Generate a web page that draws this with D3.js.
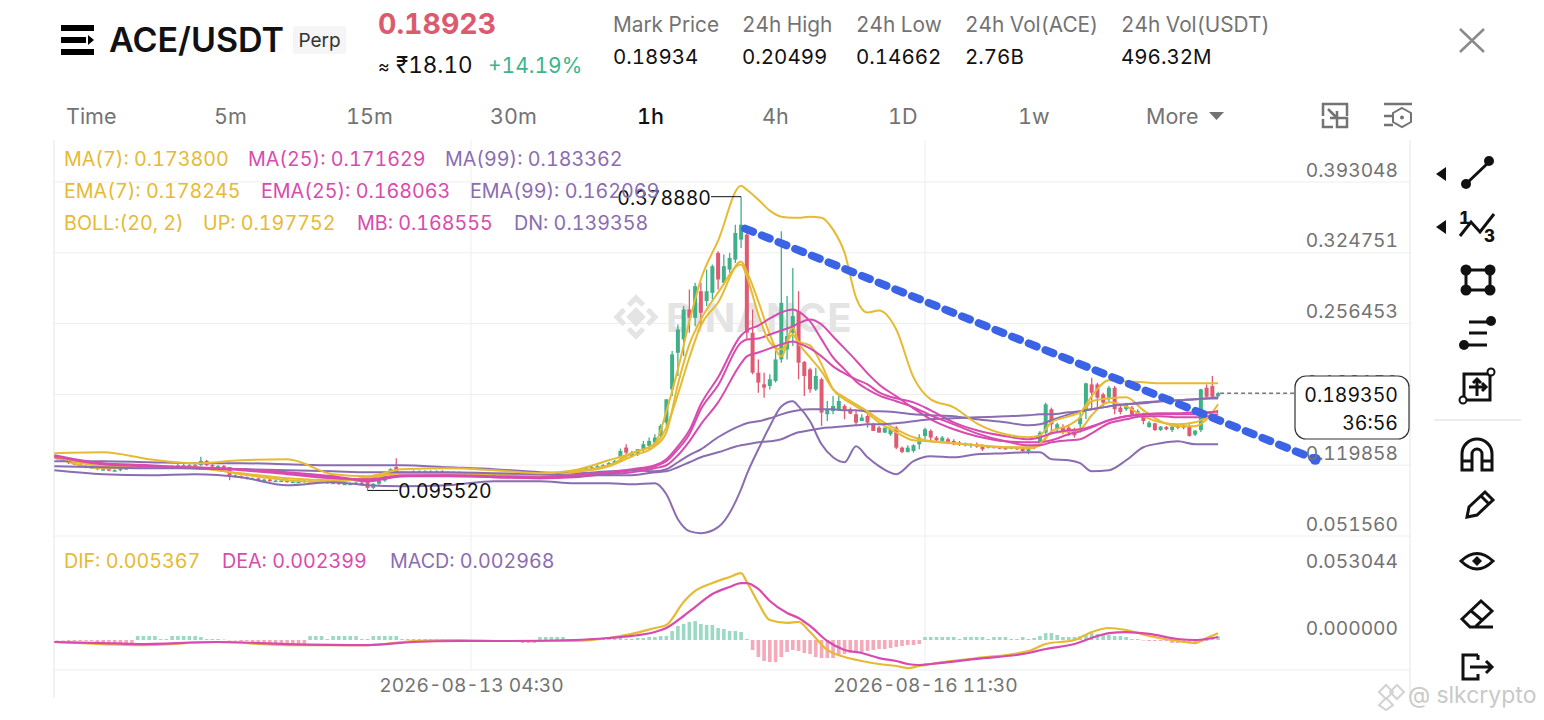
<!DOCTYPE html>
<html lang="en">
<head>
<meta charset="utf-8" />
<title>ACE/USDT Perp 1h</title>
<script src="https://cdn.jsdelivr.net/npm/d3@7"></script>
<style>
    body { margin: 0; background: #fff; }
    svg { display: block; }
    svg text { font-family: Inter, "Noto Sans", sans-serif; font-variant-numeric: tabular-nums; }
</style>
</head>
<body>
<script>
// prices are thousandths of a USDT
var candleOpen = [
    128,126,124,122,121,119,118,118,116,116,115,115,117,117,118,118,119,119,118,118,
    119,119,120,120,120,120,124,120,119,119,118,110,109,108,107,107,106,106,105,105,
    105,104,104,104,105,104,104,104,103,103,102,102,102,103,104,98,102,105,110,118,
    113,113,113,114,114,114,114,114,113,113,113,112,112,112,112,112,111,110,111,110,
    109,110,109,109,108,109,109,110,110,112,114,115,116,117,118,119,120,122,
    127.2,136.9,128.8,130.4,135.3,138.5,141.7,148.1,160.9,193,228.3,241.2,270.1,262,287.7,278.1,286.1,324.6,295.8,308.6,
    318.2,337.5,342.3,247.6,209.1,197.9,196.3,201.1,221.9,231.6,247.6,268.5,219.4,212.3,193,202.7,169,172.2,173.8,177,
    173.8,169,162.5,167.4,159.3,156.1,
    151.3,149.7,156.1,136.8,132.7,133.6,140,148.1,152.9,146.5,143.3,144.9,143.3,141.7,139.1,138.4,140,139.1,136.8,137.8,
    137.2,136.8,135.9,136.8,135.9,133.6,139.1,141.7,151.3,173.8,154.5,156.1,156.1,154.5,159.3,172.2,197.8,197.8,188.2,185,
    194.6,175.4,173.8,175.4,168.9,168.9,156.7,160.3,153.8,156.7,153.8,158.3,158.3,157.7,149.4,153.8,194.6,196.2,186.6
];
var candleClose = [
    126,124,122,121,119,118,118,116,116,115,115,117,117,118,118,119,119,118,118,119,
    119,120,120,120,120,124,120,119,119,118,110,109,108,107,107,106,106,105,105,105,
    104,104,104,105,104,104,104,103,103,102,102,102,103,101,98,102,105,110,116,113,
    113,113,114,114,114,114,114,113,113,113,112,112,112,112,112,111,110,111,110,109,
    110,109,109,108,109,109,110,110,112,114,115,116,117,118,119,120,122,124,
    133.6,132,132,135.3,140.1,143.3,146.5,157.7,183.4,226.7,250.8,270.1,262,292.6,266.9,287.7,311.8,299,311.8,319.8,
    343.9,351.9,247.6,209.1,199.5,194.7,202.7,221.9,276.5,244.4,263.7,218.7,205.9,193,205.9,170.6,173.8,177,181.8,172.2,
    169.6,160.9,165.8,160.9,152.9,151.3,
    156.1,154.5,136.8,132.7,136.8,139.1,146.5,154.5,146.5,143.9,146.5,141.7,140,139.4,141,140.4,137.8,135.2,138.4,136.5,
    135.9,135.2,137.2,135.2,133.6,135.9,136.5,151.3,178.6,159.3,159.3,151.9,151.3,148.7,165.7,198.8,189.8,185,180.2,194.6,
    173.8,171.2,178.6,168.9,172.2,162.5,160.9,153.8,157.1,154.5,157.1,156.1,156.1,148.1,153.2,193,185.9,185.9,189.35
];
var candleHigh = [
    129,127,125,123,122,120,119,119,117,117,116,118,118,119,119,120,120,120,119,120,
    120,121,121,121,121,128,125,121,120,120,118,111,110,109,108,108,107,107,106,106,
    106,105,105,106,105,105,105,105,104,104,103,103,104,104,104.4,102.5,106,111,117,126.6,
    114,114,115,115,115,115,115,115,114,114,114,113,113,113,113,113,112,112,112,111,
    111,111,110,110,110,110,111,111,113,115,116,117,118,119,120,121,123,125,
    135.9,140.1,133.6,135.3,143.3,146.5,149.7,159.3,183.4,230,255.6,273.3,289.3,295.8,295.8,308.6,313.4,326.3,323,324.6,
    351.9,378.88,345.5,270.1,221.9,209.1,207.5,230,345.5,283,310.2,287.7,220.3,213.9,213.9,204.3,181.8,186.6,188.2,178.6,
    175.4,172.2,169,169,160.9,157.7,
    156.1,156.1,157.7,137.8,139.1,140,149.7,156.1,154.5,148.1,148.1,146.5,144.9,143.3,141.7,141,141.7,140,139.1,138.4,
    137.8,137.8,137.8,137.8,136.8,136.8,140,152.9,180.2,175.4,160.9,159.3,159.3,156.1,172.2,199.4,204.2,199.4,189.8,196.2,
    196.2,177,180.2,177,173.8,170.5,162.5,160.9,157.7,157.7,158.3,159.3,159.3,159.3,153.9,193.6,197.8,205.9,190.8
];
var candleLow = [
    125,123,121,120,118,117,117,115,115,114,114,114,116,116,117,117,118,117,117,117,
    118,118,119,119,119,119,119,118,118,117,105.4,108,107,106,106,105,105,104,104,104,
    103,103,103,103,103,103,103,102,102,101,101,101,101,100,95.52,97,101,104,109,112,
    112,112,112,113,113,113,113,112,112,112,111,111,111,111,111,110,109,110,109,108,
    108,108,108,107,107,108,108,109,109,111,113,114,115,116,117,118,119,121,
    125.6,127.2,127.2,128.8,132,135.3,140.1,144.9,157.7,186.6,205.9,225.1,247.6,254,254,273.3,279.7,289.3,294.2,305.4,
    315,329.5,241.2,207.5,189.8,185,193,199.5,218.7,221.9,234.8,202.7,186.6,189.8,191.4,157.7,162.5,169,172.2,164.2,
    169,157.7,162.5,156.1,152.9,151.3,
    151,148.1,135.2,131.4,132,132,135.2,144.9,141.7,141.7,141.7,140,139.1,138.4,137.8,136.8,136.8,133.6,135.9,135.9,
    135.2,134.6,135.2,134.6,132.7,130.4,135.2,138.4,149.7,149.7,152.9,149.7,148.1,146.5,151.3,164.1,173.8,175.4,177,180.2,
    168.9,168.9,172.2,167.3,167.3,159.3,156.1,152.9,152.9,153.5,151.9,154.5,154.5,147.4,148.1,151.9,184,184,185
];

// bars at which the indicator lines were read
var lineBars = [-0.5,8,16,24,32,40,48,54,60,68,76,84,90,96,
    100,104,106,108,110,112,115,119,120,122,124,126,128,129,131,133,135,137,139,141,143,
    146,149,152,156,160,165,169,171,173,176,178,180,183,186,189,192,195,198,200,202];
var ma7 = [127.5,116.9,118.9,117.9,111.2,105.4,103.5,108.3,113.1,112.1,111.2,109.2,114,119.8,
    131.4,140,156.4,188.2,223.8,254.6,276.8,316.3,306.6,277.8,246,224.8,252.7,239.2,235.4,217.1,193,183.4,176.6,169.9,161.2,
    151.6,143.9,142.9,141,139.1,137.2,136.2,139.1,152.6,158.3,166,181.5,184.3,185.3,172.8,162.2,157.4,157.4,164.1,178.6];
var ma25 = [127.5,120.8,117.9,116.9,116,112.1,108.3,104.4,109.2,110.2,108.3,107.3,108.3,112.1,
    115,118.9,123.7,135.2,149.7,173.8,196.9,238.3,241.2,242.1,246,249.8,253.7,256.6,260.4,255.6,244,232.5,220.9,208.4,197.8,
    186.3,174.7,164.1,154.5,147.8,142.9,142,142,143.9,149.7,152.6,156.4,163.2,167,168.9,168.9,168.9,168.9,169.9,170.9];
var ma99 = [123.7,123.7,122.7,121.8,121.8,120.8,119.8,119.8,119.8,117.9,116,113.1,112.1,114,
    115,114,116,122.7,129.5,135.2,146.8,158.3,160.3,162.2,165.1,168.9,171.8,172.8,173.8,173.8,173.8,172.8,172.8,171.8,171.8,
    170.9,168.9,168,167,164.1,161.2,158.3,159.3,163.2,168.9,171.8,173.8,176.6,178.6,179.5,181.5,182.4,183.4,184.3,185.3];
var ema7 = [128.5,118.9,117.9,116.9,112.1,107.3,105.4,107.3,112.1,112.1,111.2,109.2,113.1,118.9,
    128.5,138.1,151.6,197.8,236.4,260.4,286.4,313.4,301.8,265.2,238.3,231.5,246,237.3,223.8,210.3,193,185.3,178.6,171.8,164.1,
    154.5,146.8,142.9,141,139.1,137.2,137.2,141,150.6,152.6,154.5,168,180.5,176.6,167,161.2,159.3,161.2,166,172.8];
var ema25 = [129.5,121.8,119.8,116.9,115,111.2,107.3,106.3,109.2,109.2,108.3,107.3,109.2,111.2,
    113.1,116.9,119.8,129.5,142.9,159.3,180.5,218.1,224.8,228.6,232.5,236.4,239.2,237.3,232.5,224.8,215.2,208.4,202.6,197.8,190.1,
    184.3,180.5,172.8,161.2,153.5,147.8,144.9,146.8,150.6,153.5,154.5,157.4,163.2,167,168.9,169.9,169.9,170.9,170.9,171.8];
var ema99 = [118.9,117.9,116.9,116.9,116,115,114,113.1,113.1,113.1,112.1,111.2,110.2,110.2,
    110.2,113.1,114,117.9,122.7,127.5,132.3,139.1,140,142,142.9,144.9,149.7,151.6,153.5,155.5,156.4,157.4,158.3,159.3,159.3,
    160.3,162.2,164.1,165.1,166,167,168,168.9,168.9,170.9,171.8,173.8,176.6,178.6,180.5,181.5,182.4,183.4,184.3,184.3];
var bollUp = [131.4,132.3,125.6,121.8,124.6,125.6,111.2,109.2,116,116.9,115,112.1,115,124.6,
    131.4,141,171.8,212.3,258.5,299,336.5,389.5,385.6,376,365.4,359.6,358.6,358.6,359.6,358.6,347.1,324.9,281.6,267.2,269.1,
    250.8,204.6,183.4,175.7,160.3,149.7,146.8,148.7,161.2,167,170.9,186.3,201.7,200.7,199.8,198.8,198.8,198.8,198.8,198.8];
var bollMb = [128.5,120.8,118.9,117.9,116,113.1,109.2,105.4,110.2,110.2,109.2,108.3,110.2,113.1,
    116,119.8,125.6,138.1,153.5,178.6,204.6,245,249.8,254.6,261.4,267.2,270,268.1,258.5,241.2,223.8,212.3,200.7,193,187.2,
    181.5,175.7,168,159.3,150.6,142.9,139.1,139.1,142,143.9,144.9,150.6,160.3,164.1,167,167,166,166,167,168.9];
var bollDn = [115,111.2,110.2,111.2,108.3,100.6,103.5,100.6,99.6,100.6,104.4,104.4,102.5,102.5,
    101.5,102.5,91.9,67.8,56.3,54.3,60.1,96.7,111.2,135.2,157.4,176.6,181.5,176.6,162.2,140,127.5,122.7,138.1,127.5,118.9,
    111.2,123.7,128.5,127.5,130.4,131.4,132.3,132.3,125.6,124.6,121.8,114,115,124.6,137.2,141,142.9,140,140,140];

// MACD panel, same units
var macdBars = [-0.5,8,14,28,40,54,62,70,78,90,96,100,104,106,109,111,114,117,119,120,
    122,124,127,129,131,134,137,140,143,146,148,150,152,160,169,172,177,180,183,186,190,195,198,200,202];
var dif = [-1.6,-3.2,-4,-1.6,-4,-4,-0.8,0,-0.8,-0.8,1.6,4.8,9.5,11.9,30.1,38.8,45.1,49.9,53,45.9,
    29.3,15.8,13.5,14.3,6.3,-7.9,-13.5,-16.6,-19,-20.6,-22.2,-20.6,-19,-14.3,-8.7,-3.2,0,6.3,9.5,7.9,3.2,-0.8,-2.4,1.6,5.4];
var dea = [-1.6,-2.4,-3.2,-1.6,-3.2,-4,-1.6,-0.8,-0.8,0,1.6,3.2,6.3,9.5,19,26.1,36.4,42,45.1,45.1,
    40.4,30.9,21.4,17.4,11.1,-0.8,-7.9,-10.3,-14.3,-16.6,-19,-19.8,-19,-15,-10.3,-7.1,-3.2,1.6,5.5,6.3,4.8,0.8,0,0.8,2.4];
var macdHist = [
    -0.4,-0.4,-0.8,-0.8,-0.8,-0.8,-0.8,-3.2,-3.2,-3.2,-3.2,-3.2,-3.2,-3.2,3.2,3.2,3.2,3.2,0.8,0.8,
    3.2,3.2,3.2,3.2,3.2,2.4,0.8,0.8,0.8,0.4,-0.4,-0.4,-0.8,-0.8,-3.2,-3.2,-3.2,-3.2,-3.2,-3.2,
    -3.2,-3.2,-3.2,-3.2,3.2,3.2,3.2,0.8,3.2,3.2,3.2,3.2,3.2,0.8,0.8,3.2,3.2,3.2,3.2,3.2,
    0.8,0.8,0.8,0.8,0.8,0.8,0.8,0.8,0.8,0.8,-0.8,-0.8,-0.8,-0.8,-0.8,-0.8,-0.4,-0.4,-0.4,-0.4,
    -0.4,-2.4,-2.4,-2.4,2.4,2.4,2.4,2.4,2.4,0.8,0.8,0.8,0.8,1.6,1.6,1.6,1.6,1.6,1.6,1,
    1,1.6,1.6,2.4,2.4,3.2,3.2,7.1,11.1,12.7,14.3,15,12.7,11.9,11.9,9.5,8.7,7.1,7.1,6.3,
    0.8,-7.9,-13.5,-16.6,-17.4,-17.4,-13.5,-9.5,-7.9,-8.7,-10.3,-11.1,-13.5,-14.3,-14.3,-14.3,-11.9,-11.1,-10.3,-10.3,
    -9.5,-8.7,-7.9,-7.1,-7.1,-6.3,-5.5,-4.8,-4,-4,-3.2,2.4,2.4,2.4,2.4,2.4,2.4,0.8,2.4,2.4,
    2.4,2.4,0.8,2.4,2.4,2.4,0.8,0.8,2.4,0.8,1.6,3.2,5.5,5.5,4,2.4,2.4,2.4,3.2,4,
    5.5,4.8,4,4,3.2,3.2,2.4,0.8,0.8,-0.4,-0.8,-0.8,-0.8,-0.8,-2.4,-2.4,-2.4,-2.4,-2.4,-1.6,
    -0.8,1.6,2.97
];

// the hand drawn trend line: bar position and price at both ends
var trendBars = [119.7, 218.9];
var trendPrices = [348.1, 125.6];

var priceTicks = [393.048, 324.751, 256.453, 188.156, 119.858, 51.56];
var priceTickLabels = ['0.393048', '0.324751', '0.256453', '0.188156', '0.119858', '0.051560'];
var macdTicks = [53.044, 0];
var macdTickLabels = ['0.053044', '0.000000'];
var timeTicks = [72, 151];
var timeTickLabels = ['2026-08-13 04:30', '2026-08-16 11:30'];

var tabs = ['Time', '5m', '15m', '30m', '1h', '4h', '1D', '1w', 'More'];
var tabX = [66, 214, 346, 490, 637, 762, 888, 1018, 1146];
var statLabels = ['Mark Price', '24h High', '24h Low', '24h Vol(ACE)', '24h Vol(USDT)'];
var statValues = ['0.18934', '0.20499', '0.14662', '2.76B', '496.32M'];
var statX = [613, 742, 856, 965, 1121];

var gold = '#E6BA32', magenta = '#D84BAE', purple = '#8A6DB1', grey = '#737373';
var upColor = '#3FB088', downColor = '#E05A72';

var svg = d3.select('body').append('svg').attr('width', 1544).attr('height', 720);

var x = d3.scaleLinear().domain([0, 202]).range([57.2, 1218.1]);
var y = d3.scaleLinear().domain([51.56, 393.048]).range([536, 182]);
var yMacd = d3.scaleLinear().domain([0, 53.044]).range([640, 573]);

function label(parent, px, py, str, size, color, weight, anchor) {
    return parent.append('text').attr('x', px).attr('y', py).text(str)
        .attr('font-size', size).attr('fill', color)
        .attr('font-weight', weight || 400).attr('text-anchor', anchor || 'start');
}

// ---- grid
var grid = svg.append('g').attr('stroke', '#eeeeee').attr('stroke-width', 1);
grid.selectAll('.h').data(priceTicks.concat([])).enter().append('line')
    .attr('x1', 54).attr('x2', 1410)
    .attr('y1', function(d) { return y(d); }).attr('y2', function(d) { return y(d); });
grid.append('line').attr('x1', 54).attr('x2', 1410).attr('y1', 670).attr('y2', 670);
grid.selectAll('.v').data(timeTicks).enter().append('line')
    .attr('x1', function(d) { return x(d); }).attr('x2', function(d) { return x(d); })
    .attr('y1', 140).attr('y2', 670);
grid.append('line').attr('x1', 54).attr('x2', 54).attr('y1', 140).attr('y2', 698).attr('stroke', '#e4e4e4');
grid.append('line').attr('x1', 1410).attr('x2', 1410).attr('y1', 140).attr('y2', 698).attr('stroke', '#e4e4e4');

// ---- BINANCE watermark, under the candles
var wm = svg.append('g').attr('fill', '#e4e4e4');
wm.append('g').attr('transform', 'translate(636,317) rotate(45)').selectAll('path')
    .data(['M-7 -7H7V7H-7Z',
           'M-16 -3V-16H-3V-11H-11V-3Z', 'M3 -16H16V-3H11V-11H3Z',
           'M16 3V16H3V11H11V3Z', 'M-3 16H-16V3H-11V11H-3Z'])
    .enter().append('path').attr('d', function(d) { return d; });
label(svg, 666, 332, 'BINANCE', 40, '#e4e4e4', 700).attr('letter-spacing', 0.5);

// ---- candles
var candles = candleOpen.map(function(o, i) {
    return { i: i, o: o, c: candleClose[i], h: candleHigh[i], l: candleLow[i] };
});
var candle = svg.append('g').selectAll('g').data(candles).enter().append('g')
    .attr('fill', function(d) { return d.c >= d.o ? upColor : downColor; })
    .attr('stroke', function(d) { return d.c >= d.o ? upColor : downColor; });
candle.append('line')
    .attr('x1', function(d) { return x(d.i); }).attr('x2', function(d) { return x(d.i); })
    .attr('y1', function(d) { return y(d.h); }).attr('y2', function(d) { return y(d.l); })
    .attr('stroke-width', 1.3);
candle.append('rect').attr('stroke', 'none')
    .attr('x', function(d) { return x(d.i) - 2; }).attr('width', 4)
    .attr('y', function(d) { return y(Math.max(d.o, d.c)); })
    .attr('height', function(d) { return Math.max(1.5, Math.abs(y(d.o) - y(d.c))); });

// ---- indicator lines
var line = d3.line()
    .x(function(d) { return x(d[0]); })
    .y(function(d) { return y(d[1]); })
    .curve(d3.curveMonotoneX);
var priceSeries = [
    [ma7, gold], [ma25, magenta], [ma99, purple],
    [ema7, gold], [ema25, magenta], [ema99, purple],
    [bollUp, gold], [bollMb, magenta], [bollDn, purple]
];
svg.append('g').attr('fill', 'none').attr('stroke-width', 2).selectAll('path')
    .data(priceSeries).enter().append('path')
    .attr('stroke', function(d) { return d[1]; })
    .attr('d', function(d) { return line(d3.zip(lineBars, d[0])); });

// ---- high and low markers
label(svg, 711, 205, '0.378880', 19.5, '#111', 400, 'end');
svg.append('line').attr('x1', 711).attr('x2', x(119)).attr('y1', y(378.88)).attr('y2', y(378.88)).attr('stroke', '#111');
svg.append('line').attr('x1', x(54)).attr('x2', 398).attr('y1', y(95.52)).attr('y2', y(95.52)).attr('stroke', '#111');
label(svg, 398, 498, '0.095520', 19.5, '#111');

// ---- trend line drawn by the user
svg.append('line')
    .attr('x1', x(trendBars[0])).attr('y1', y(trendPrices[0]))
    .attr('x2', x(trendBars[1])).attr('y2', y(trendPrices[1]))
    .attr('stroke', '#3A63E6').attr('stroke-width', 8)
    .attr('stroke-linecap', 'round').attr('stroke-dasharray', '8.5 9.5');
svg.append('circle').attr('cx', x(trendBars[1])).attr('cy', y(trendPrices[1])).attr('r', 5.5).attr('fill', '#3A63E6');

// ---- MACD panel
var barsMacd = svg.append('g');
barsMacd.selectAll('rect').data(macdHist).enter().append('rect')
    .attr('x', function(d, i) { return x(i) - 1.8; }).attr('width', 3.6)
    .attr('y', function(d) { return d >= 0 ? yMacd(d) : yMacd(0); })
    .attr('height', function(d) { return Math.abs(yMacd(d) - yMacd(0)); })
    .attr('fill', function(d) { return d >= 0 ? '#9CD9C5' : '#F4AABA'; });
var lineMacd = d3.line()
    .x(function(d) { return x(d[0]); })
    .y(function(d) { return yMacd(d[1]); })
    .curve(d3.curveMonotoneX);
svg.append('g').attr('fill', 'none').attr('stroke-width', 2.2).selectAll('path')
    .data([[dif, gold], [dea, magenta]]).enter().append('path')
    .attr('stroke', function(d) { return d[1]; })
    .attr('d', function(d) { return lineMacd(d3.zip(macdBars, d[0])); });

// ---- axes
function styleAxis(g) {
    g.select('.domain').remove();
    g.selectAll('.tick line').remove();
    g.selectAll('text').attr('font-size', 19.2).attr('fill', grey)
        .style('font-family', 'Inter, "Noto Sans", sans-serif');
}
var axisPrice = svg.append('g').attr('transform', 'translate(1398,0)').call(
    d3.axisLeft(y).tickValues(priceTicks).tickSize(0).tickPadding(0)
        .tickFormat(function(d, i) { return priceTickLabels[i]; }));
axisPrice.call(styleAxis);
axisPrice.selectAll('text').attr('y', -12);
var axisMacd = svg.append('g').attr('transform', 'translate(1398,0)').call(
    d3.axisLeft(yMacd).tickValues(macdTicks).tickSize(0).tickPadding(0)
        .tickFormat(function(d, i) { return macdTickLabels[i]; }));
axisMacd.call(styleAxis);
axisMacd.selectAll('text').attr('y', -12);
var axisTime = svg.append('g').attr('transform', 'translate(0,672)').call(
    d3.axisBottom(x).tickValues(timeTicks).tickSize(0).tickPadding(0)
        .tickFormat(function(d, i) { return timeTickLabels[i]; }));
axisTime.call(styleAxis);
axisTime.selectAll('text').attr('y', 6);

// ---- last price callout
svg.append('line').attr('x1', x(202) + 2).attr('x2', 1295).attr('y1', y(189.35)).attr('y2', y(189.35))
    .attr('stroke', '#333').attr('stroke-dasharray', '4 3');
svg.append('rect').attr('x', 1295).attr('y', 376).attr('width', 114).attr('height', 63).attr('rx', 11)
    .attr('fill', '#fff').attr('stroke', '#333').attr('stroke-width', 1.2);
label(svg, 1398, 402, '0.189350', 19.5, '#111', 400, 'end');
label(svg, 1398, 430, '36:56', 19.5, '#111', 400, 'end');

// ---- indicator legends
var legend = svg.append('g');
label(legend, 64, 166, 'MA(7): 0.173800', 19.7, gold);
label(legend, 248, 166, 'MA(25): 0.171629', 19.7, magenta);
label(legend, 445, 166, 'MA(99): 0.183362', 19.7, purple);
label(legend, 64, 198, 'EMA(7): 0.178245', 19.7, gold);
label(legend, 261, 198, 'EMA(25): 0.168063', 19.7, magenta);
label(legend, 470, 198, 'EMA(99): 0.162069', 19.7, purple);
label(legend, 64, 230, 'BOLL:(20, 2)', 19.7, gold);
label(legend, 203, 230, 'UP: 0.197752', 19.7, gold);
label(legend, 357, 230, 'MB: 0.168555', 19.7, magenta);
label(legend, 514, 230, 'DN: 0.139358', 19.7, purple);
label(legend, 64, 568, 'DIF: 0.005367', 19.7, gold);
label(legend, 222, 568, 'DEA: 0.002399', 19.7, magenta);
label(legend, 390, 568, 'MACD: 0.002968', 19.7, purple);

// ---- header
var head = svg.append('g');
head.append('rect').attr('x', 61).attr('y', 25).attr('width', 33).attr('height', 6);
head.append('rect').attr('x', 61).attr('y', 37).attr('width', 25).attr('height', 6);
head.append('path').attr('d', 'M88 35L94 40L88 45Z');
head.append('rect').attr('x', 61).attr('y', 49).attr('width', 33).attr('height', 6);
label(head, 109, 52, 'ACE/USDT', 34, '#111', 600);
head.append('rect').attr('x', 293).attr('y', 26).attr('width', 53).attr('height', 28).attr('rx', 3).attr('fill', '#f5f5f5');
label(head, 319.5, 47, 'Perp', 19, '#333', 400, 'middle');
label(head, 378, 34, '0.18923', 28.5, '#DC5A6E', 700);
label(head, 378, 73, '\u2248', 18, '#111');
label(head, 396, 73, '\u20b918.10', 22.5, '#111');
label(head, 488, 73, '+14.19%', 21, '#3DB58C');
statLabels.forEach(function(s, i) {
    label(head, statX[i], 32, s, 20.8, grey);
    label(head, statX[i], 64, statValues[i], 20.5, '#111');
});
head.append('path').attr('d', 'M1460 29L1484 52M1484 29L1460 52').attr('stroke', '#8a8a8a').attr('stroke-width', 2.5);

// ---- interval tabs
tabs.forEach(function(s, i) {
    label(head, tabX[i], 124, s, 21.5, s === '1h' ? '#111' : grey, s === '1h' ? 500 : 400);
});
head.append('path').attr('d', 'M1209 112H1224L1216.5 120Z').attr('fill', grey);
var tabIcons = head.append('g').attr('fill', 'none').attr('stroke', grey).attr('stroke-width', 2.5);
tabIcons.append('path').attr('d', 'M1323 116V104H1347V116M1323 119V127H1333M1328 109L1337 118M1337 111V118H1330');
tabIcons.append('rect').attr('x', 1337).attr('y', 118).attr('width', 10).attr('height', 9);
tabIcons.append('path').attr('d', 'M1384 104H1412M1384 116H1393M1384 125H1393');
tabIcons.append('path').attr('d', 'M1402 108L1411 113V122L1402 127L1393 122V113Z').attr('stroke-width', 2);
tabIcons.append('circle').attr('cx', 1402).attr('cy', 117.5).attr('r', 2).attr('fill', grey).attr('stroke', 'none');

// ---- drawing toolbar
var tools = svg.append('g').attr('fill', 'none').attr('stroke', '#111').attr('stroke-width', 3);
function dot(cx, cy, r) { tools.append('circle').attr('cx', cx).attr('cy', cy).attr('r', r).attr('fill', '#111').attr('stroke', 'none'); }
tools.append('path').attr('d', 'M1436 174L1446 167V181Z').attr('fill', '#111').attr('stroke', 'none');
tools.append('path').attr('d', 'M1436 227L1446 220V234Z').attr('fill', '#111').attr('stroke', 'none');
tools.append('path').attr('d', 'M1466 184L1489 162');
dot(1466, 184, 5); dot(1489, 161, 5);
tools.append('path').attr('d', 'M1460 236L1471 222L1480 232L1494 214');
label(tools, 1459, 224, '1', 17, '#111', 800).attr('stroke', 'none');
label(tools, 1484, 242, '3', 17, '#111', 800).attr('stroke', 'none');
tools.append('path').attr('d', 'M1466 270H1490V290H1466Z');
dot(1466, 270, 5.5); dot(1490, 270, 5.5); dot(1466, 290, 5.5); dot(1490, 290, 5.5);
tools.append('path').attr('d', 'M1469 322H1490M1469 333H1487M1464 345H1487');
dot(1491, 321, 5); dot(1464, 345, 5);
tools.append('path').attr('d', 'M1464 374H1490V400H1464ZM1477 379V396M1469 387H1486M1473 383L1477 379L1481 383M1482 383L1486 387L1482 391');
tools.append('circle').attr('cx', 1491).attr('cy', 372).attr('r', 3.5).attr('fill', '#fff').attr('stroke-width', 2);
tools.append('circle').attr('cx', 1463).attr('cy', 400).attr('r', 3.5).attr('fill', '#fff').attr('stroke-width', 2);
svg.append('line').attr('x1', 1434).attr('x2', 1521).attr('y1', 420).attr('y2', 420).attr('stroke', '#e6e6e6').attr('stroke-width', 1.5);
tools.append('path').attr('d', 'M1462 470V454A15 15 0 0 1 1492 454V470H1482V454A5 5 0 0 0 1472 454V470ZM1462 461H1472M1482 461H1492');
tools.append('path').attr('d', 'M1467 517L1469 507L1485 492L1493 500L1477 515ZM1481 496L1489 504');
tools.append('path').attr('d', 'M1461 561Q1477 546 1493 561Q1477 577 1461 561Z');
tools.append('path').attr('d', 'M1477 556L1482 561L1477 566L1472 561Z').attr('fill', '#111').attr('stroke', 'none');
tools.append('path').attr('d', 'M1462 619L1481 601L1492 611L1475 627H1470ZM1470 610L1483 621M1473 627H1493');
tools.append('path').attr('d', 'M1478 655H1463V679H1478V674M1478 660V655M1470 667H1492M1486 661L1492 667L1486 673');

// ---- author watermark
label(svg, 1408, 703, '@ slkcrypto', 23, '#c9c9c9');
var hex = svg.append('g').attr('fill', 'none').attr('stroke', '#d2d2d2').attr('stroke-width', 2);
hex.append('path').attr('d', 'M1386 685L1393 692L1386 699L1379 692ZM1397 685L1404 692L1397 699L1390 692ZM1386 698L1393 705L1386 710L1379 705Z');
</script>
</body>
</html>
